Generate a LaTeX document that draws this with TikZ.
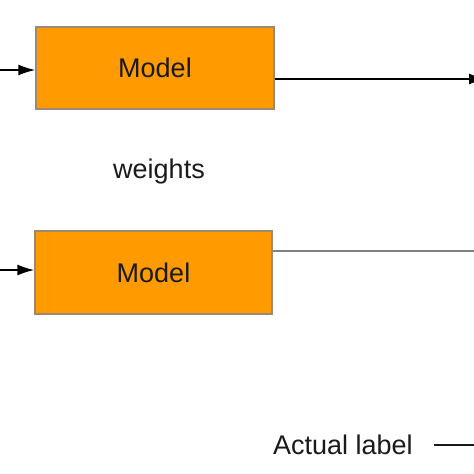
\documentclass[tikz,border=0pt]{standalone}
\usepackage{fontspec}
\setmainfont{Liberation Sans}
\usetikzlibrary{arrows.meta}
\definecolor{boxfill}{HTML}{FF9A00}
\definecolor{boxline}{HTML}{A08870}
\definecolor{txt}{HTML}{1A1A1A}
\definecolor{grayline}{HTML}{808080}
\begin{document}
\begin{tikzpicture}[x=1pt,y=-1pt,
  modelbox/.style={draw=boxline,line width=1.3pt,fill=boxfill,inner sep=0pt,
    minimum width=238pt,minimum height=82pt,font=\fontsize{27}{32}\selectfont,text=txt},
  lbl/.style={font=\fontsize{27}{32}\selectfont,text=txt,inner sep=0pt},
  arr/.style={line width=1.7pt,-{Latex[length=17pt,width=11pt]}}]
\useasboundingbox (0,0) rectangle (474,474);
\clip (0,0) rectangle (474,474);
\fill[white] (0,0) rectangle (474,474);
\node[modelbox] (box1) at (155,68) {Model};
\node[modelbox,minimum width=237pt,minimum height=83pt] (box2) at (153.5,272.5) {Model};
\node[lbl] (w) at (159,172) {weights};
\node[lbl,anchor=west] (act) at (273,445) {Actual label};
\coordinate (in1) at (-5,70);
\coordinate (in2) at (-5,270);
\coordinate (out1) at (486,79);
\coordinate (out2) at (480,251);
\coordinate (l3) at (434,445);
\coordinate (out3) at (480,445);
\draw[arr] (in1) -- (box1.west |- in1);
\draw[arr] (in2) -- (box2.west |- in2);
\draw[arr] ([yshift=-11pt]box1.east) -- (out1);
\draw[grayline,line width=2.2pt] ([yshift=21.5pt]box2.east) -- (out2);
\draw[line width=1.7pt,txt] (l3) -- (out3);
\end{tikzpicture}
\end{document}
